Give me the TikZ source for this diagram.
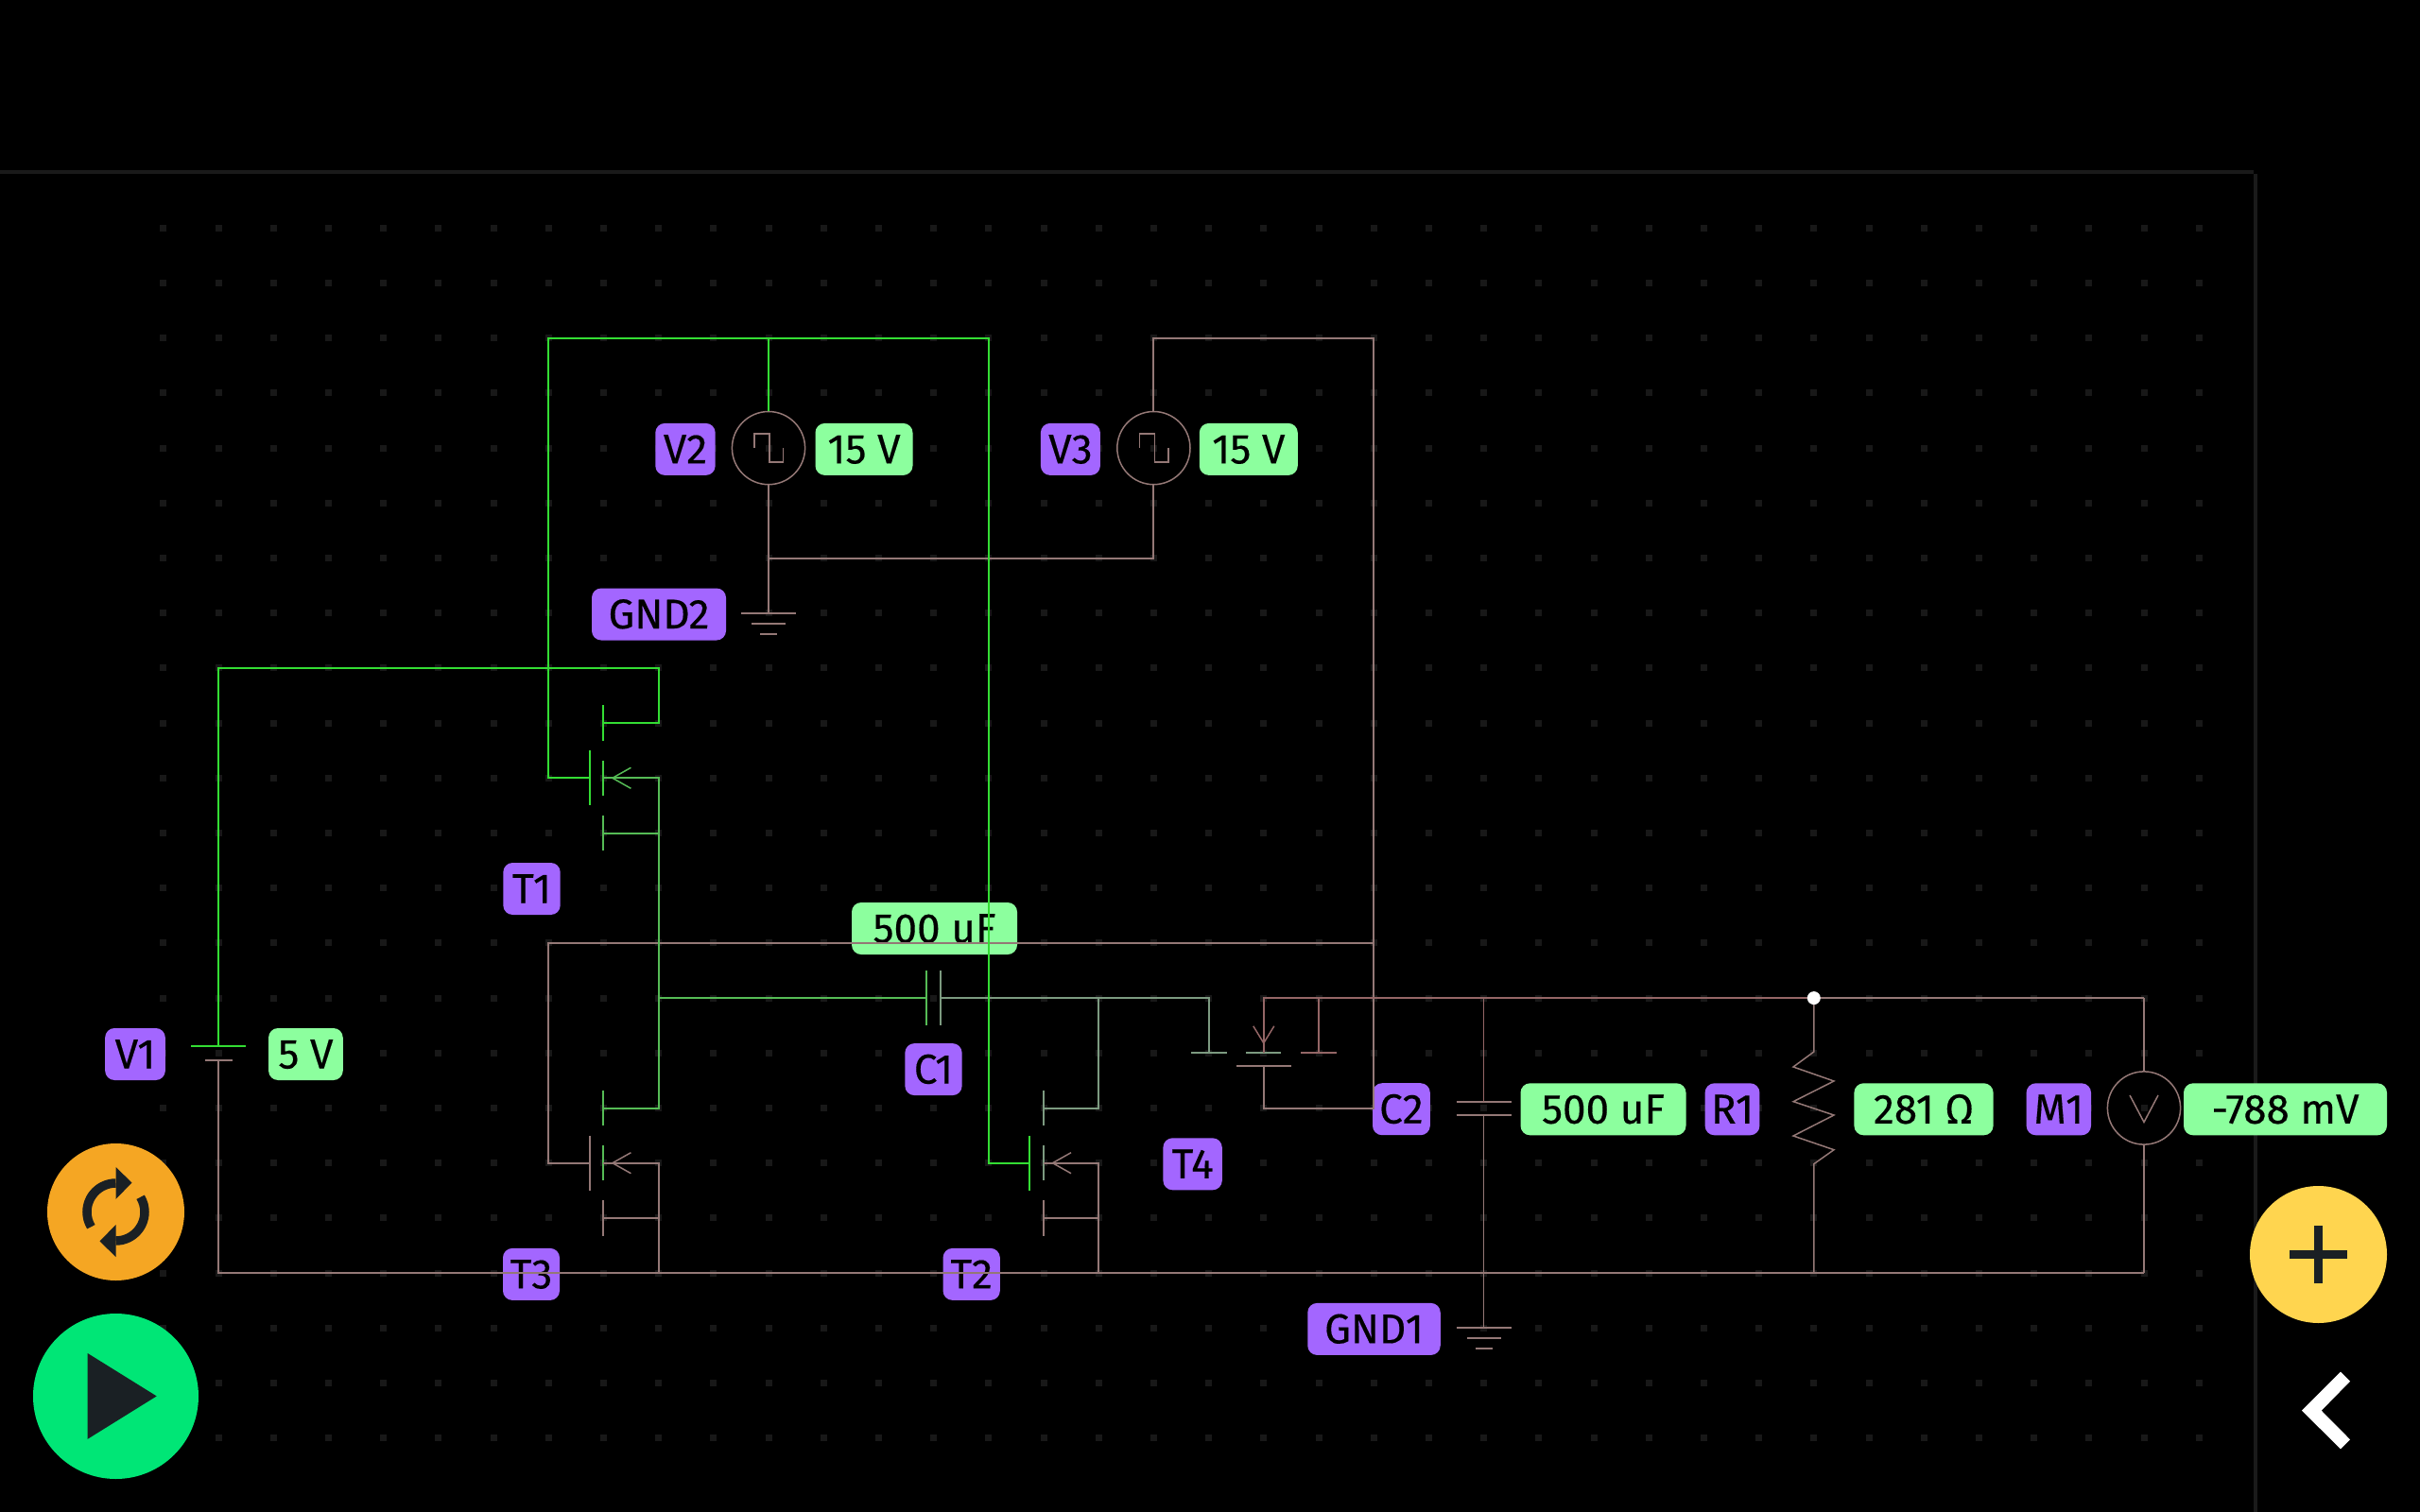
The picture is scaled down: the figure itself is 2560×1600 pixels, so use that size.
\documentclass[tikz,border=0pt]{standalone}
\usepackage{fontspec}
\setmainfont[FakeBold=0.35]{Fira Sans}
\usetikzlibrary{calc}
\definecolor{cbright}{HTML}{33DD33}
\definecolor{cmed}{HTML}{55BB55}
\definecolor{cgg}{HTML}{7C9A80}
\definecolor{cbrown}{HTML}{947876}
\definecolor{cred}{HTML}{946666}
\definecolor{cpanel}{HTML}{1A1A1A}
\definecolor{cdot}{HTML}{181818}
\definecolor{cpurple}{HTML}{A366FF}
\definecolor{cmint}{HTML}{8CFF9E}
\definecolor{cicon}{HTML}{1A2024}
\tikzset{
  wire/.style={line width=2pt,line join=miter,line cap=butt},
  thin wire/.style={line width=1.5pt},
  lab/.style={rounded corners=10pt,inner sep=0pt,minimum height=55pt,text=black,
    text height=30pt,text depth=0pt,font=\fontsize{44}{47}\selectfont},
  pur/.style={lab,fill=cpurple},
  mint/.style={lab,fill=cmint},
  source/.style={circle,draw=cbrown,line width=1.5pt,minimum size=77.2pt,inner sep=0pt},
  gridd/.style={fill=cdot,draw=none},
}
% transistor drawn upright: #1 name, #2 col, #3 row, colours gate/drain/mid/src/arrow
\newcommand{\mosfet}[8]{%
  \coordinate (#1d) at (g-#2-\the\numexpr#3-1\relax);
  \coordinate (#1b) at (g-#2-#3);
  \coordinate (#1s) at (g-#2-\the\numexpr#3+1\relax);
  \coordinate (#1g) at ($(g-#2-#3)+(-14.6,0)$);
  \draw[wire,#4] ($(#1g)+(0,-29)$) -- ($(#1g)+(0,29)$);
  \draw[wire,#5] ($(#1d)+(0,-18.7)$) -- ($(#1d)+(0,18.7)$);
  \draw[wire,#6] ($(#1b)+(0,-18.5)$) -- ($(#1b)+(0,18.5)$);
  \draw[wire,#7] ($(#1s)+(0,-18.7)$) -- ($(#1s)+(0,18.7)$);
  \draw[thin wire,#8] ($(#1b)+(29,-11)$) -- ($(#1b)+(9.5,0)$) -- ($(#1b)+(29,11)$);
}
\begin{document}
\begin{tikzpicture}[x=1pt,y=-1pt]
\useasboundingbox (0,0) rectangle (2560,1600);
\fill[black] (0,0) rectangle (2560,1600);
% panel edge
\fill[cpanel] (0,180) rectangle (2384,184);
\fill[cpanel] (2384,184) rectangle (2388,1600);
% grid
\foreach \c in {-1,...,36}{
  \foreach \r in {-2,...,20}{
    \coordinate (g-\c-\r) at ({231+58.2*\c},{357.7+58.2*\r});
    \fill[gridd] ($(g-\c-\r)+(-3.5,-3.5)$) rectangle ($(g-\c-\r)+(3.5,3.5)$);
  }
}
% labels
\node[pur,minimum width=63.4pt] (lV2) at (725,475.4) {V2};
\node[mint,minimum width=103pt] (vV2) at (914,475.4) {15 V};
\node[pur,minimum width=63pt] (lV3) at (1132.4,475.4) {V3};
\node[mint,minimum width=104pt] (vV3) at (1320.8,475.4) {15 V};
\node[pur,minimum width=142pt] (lG2) at (697,650) {GND2};
\node[pur,minimum width=60.4pt] (lT1) at (562.5,940.5) {T1};
\node[mint,minimum width=175pt] (vC1) at (988.5,982.5) {500 uF};
\node[pur,minimum width=60.3pt] (lC1) at (987.5,1131.6) {C1};
\node[pur,minimum width=60pt] (lT3) at (562,1348.4) {T3};
\node[pur,minimum width=60.3pt] (lT2) at (1027.7,1348.4) {T2};
\node[pur,minimum width=62.4pt] (lT4) at (1261.6,1231.8) {T4};
\node[pur,minimum width=60.8pt] (lC2) at (1482.4,1173.7) {C2};
\node[mint,minimum width=175pt] (vC2) at (1696,1173.8) {500 uF};
\node[pur,minimum width=57.8pt] (lR1) at (1832.5,1173.8) {R1};
\node[mint,minimum width=147.2pt] (vR1) at (2035,1173.8) {281 Ω};
\node[pur,minimum width=68.4pt] (lM1) at (2177.8,1173.8) {M1};
\node[mint,minimum width=215pt] (vM1) at (2417.5,1173.8) {-788 mV};
\node[pur,minimum width=63.7pt] (lV1) at (143,1115.5) {V1};
\node[mint,minimum width=78.7pt] (vV1) at (323.4,1115.5) {5 V};
\node[pur,minimum width=140.5pt] (lG1) at (1453.5,1406.4) {GND1};
% sources
\node[source] (V2) at (g-10-2) {};
\node[source] (V3) at (g-17-2) {};
\node[source] (M1) at (g-35-14) {};
\foreach \n in {V2,V3}{
  \draw[thin wire,cbrown] ($(\n.center)+(-15,0)$) -- ($(\n.center)+(-15,-15)$) -- ($(\n.center)+(1,-15)$)
    -- ($(\n.center)+(1,15)$) -- ($(\n.center)+(15.6,15)$) -- ($(\n.center)+(15.6,0)$);
}
\draw[thin wire,cbrown] ($(M1.center)+(-15,-13.5)$) -- ($(M1.center)+(0,15)$) -- ($(M1.center)+(15,-13.5)$);
% battery V1
\coordinate (b1) at ($(g-0-13)+(0,-7.5)$);
\coordinate (b2) at ($(g-0-13)+(0,7.5)$);
\draw[wire,cbright] ($(b1)+(-29,0)$) -- ($(b1)+(29,0)$);
\draw[wire,cbrown] ($(b2)+(-14.5,0)$) -- ($(b2)+(14.5,0)$);
% transistors
\mosfet{T1}{7}{8}{cbright}{cbright}{cbright!60!cmed}{cmed}{cmed}
\mosfet{T3}{7}{15}{cbrown}{cmed}{cmed}{cbrown}{cbrown}
\mosfet{T2}{15}{15}{cbright}{cgg}{cgg}{cbrown}{cbrown}
% T4 (horizontal)
\coordinate (T4g) at ($(g-19-13)+(0,14)$);
\draw[wire,cgg] ($(g-18-13)+(-19,0)$) -- ($(g-18-13)+(19,0)$);
\draw[wire,cgg] ($(g-19-13)+(-18.5,0)$) -- ($(g-19-13)+(18.5,0)$);
\draw[wire,cred] ($(g-20-13)+(-19,0)$) -- ($(g-20-13)+(19,0)$);
\draw[wire,cbrown] ($(T4g)+(-29,0)$) -- ($(T4g)+(29,0)$);
\draw[thin wire,cred] ($(g-19-13)+(-11,-28.5)$) -- ($(g-19-13)+(0,-10.5)$) -- ($(g-19-13)+(11,-28.5)$);
% capacitors
\coordinate (c1a) at ($(g-13-12)+(-7.5,0)$);
\coordinate (c1b) at ($(g-13-12)+(7.5,0)$);
\draw[wire,cmed] ($(c1a)+(0,-29)$) -- ($(c1a)+(0,29)$);
\draw[wire,cgg] ($(c1b)+(0,-29)$) -- ($(c1b)+(0,29)$);
\coordinate (c2a) at ($(g-23-14)+(0,-6.5)$);
\coordinate (c2b) at ($(g-23-14)+(0,7.5)$);
\draw[wire,cbrown] ($(c2a)+(-29,0)$) -- ($(c2a)+(29,0)$);
\draw[wire,cbrown] ($(c2b)+(-29,0)$) -- ($(c2b)+(29,0)$);
% grounds
\foreach \n/\c/\col in {gnd2/10/5,gnd1/23/18}{
  \coordinate (\n) at (g-\c-\col);
  \draw[wire,cbrown] ($(\n)+(-29,0)$) -- ($(\n)+(29,0)$);
  \draw[wire,cbrown] ($(\n)+(-18,11)$) -- ($(\n)+(18,11)$);
  \draw[wire,cbrown] ($(\n)+(-9,22)$) -- ($(\n)+(9,22)$);
}
% wires: brown
\draw[wire,cbrown] (b2) -- (g-0-17) -- (g-35-17);
\draw[wire,cbrown] (T3b) -- (g-8-15) -- (g-8-17);
\draw[wire,cbrown] (T3s) -- (g-8-16);
\draw[wire,cbrown] (T2b) -- (g-16-15) -- (g-16-17);
\draw[wire,cbrown] (T2s) -- (g-16-16);
\draw[wire,cbrown] (V2.south) -- (gnd2);
\draw[wire,cbrown] (g-10-4) -- (g-17-4) -- (V3.south);
\draw[wire,cbrown] (V3.north) -- (g-17-0) -- (g-21-0) -- (g-21-14) -- (g-19-14) -- (T4g);
\draw[wire,cbrown] (g-21-11) -- (g-6-11) -- (g-6-15) -- (T3g);
% wires: red-brown top rail
\draw[wire,cred] (g-19-13) -- (g-19-12) -- (g-29-12);
\draw[wire,cbrown] (g-29-12) -- (g-35-12);
\draw[wire,cred] (g-20-12) -- (g-20-13);
\draw[thin wire,cred] (g-23-12) -- (c2a);
\draw[thin wire,cbrown] (c2b) -- (gnd1);
\draw[thin wire,cbrown] (g-35-12) -- (M1.north);
\draw[thin wire,cbrown] (M1.south) -- (g-35-17);
% resistor
\draw[thin wire,cbrown] (g-29-12) -- (1918.8,1113) -- (1897,1129) -- (1940,1144) -- (1897,1165.7)
  -- (1940,1180) -- (1897,1202) -- (1940,1216.7) -- (1918.8,1231.7) -- (g-29-17);
% wires: grey-green
\draw[wire,cgg] (c1b) -- (g-18-12) -- (g-18-13);
\draw[wire,cgg] (g-16-12) -- (g-16-14) -- (T2d);
% wires: green
\draw[wire,cmed] (c1a) -- (g-8-12);
\draw[wire,cmed] (T1b) -- (g-8-8) -- (g-8-14) -- (T3d);
\draw[wire,cmed] (T1s) -- (g-8-9);
\draw[wire,cbright] (b1) -- (g-0-6) -- (g-8-6) -- (g-8-7) -- (T1d);
\draw[wire,cbright] (T1g) -- (g-6-8) -- (g-6-0) -- (g-14-0) -- (g-14-15) -- (T2g);
\draw[wire,cbright] (g-10-0) -- (V2.north);
% junction
\node[circle,fill=white,minimum size=14pt,inner sep=0pt] (J1) at (g-29-12) {};
% buttons
\node[circle,minimum size=145pt,inner sep=0pt,fill={rgb,255:red,245;green,166;blue,35}] (bRe) at (122.5,1282.5) {};
\begin{scope}[shift={(122.5,1282.5)},y=1pt]
  \foreach \a in {0,180}{
    \begin{scope}[rotate=\a]
      \draw[cicon,line width=9.5pt] (90:30.5pt) arc[start angle=90,end angle=211,radius=30.5pt];
      \fill[cicon] (0,47.5) -- (17,31) -- (0,13.5) -- cycle;
    \end{scope}
  }
\end{scope}
\node[circle,minimum size=175pt,inner sep=0pt,fill={rgb,255:red,0;green,230;blue,118}] (bPl) at (122.5,1477.5) {};
\fill[cicon] (92.7,1432) -- (92.7,1522.8) -- (165.7,1477.4) -- cycle;
\node[circle,minimum size=145pt,inner sep=0pt,fill={rgb,255:red,255;green,213;blue,79}] (bAd) at (2452.5,1327.5) {};
\fill[cicon] (2421.7,1323.3) rectangle (2483.3,1332);
\fill[cicon] (2448,1296.7) rectangle (2457,1358);
\fill[white] (2435,1492.7) -- (2476,1451.7) -- (2486,1461.7) -- (2455.7,1492.7) -- (2486,1523.3) -- (2476,1533.3) -- cycle;
\end{tikzpicture}
\end{document}
